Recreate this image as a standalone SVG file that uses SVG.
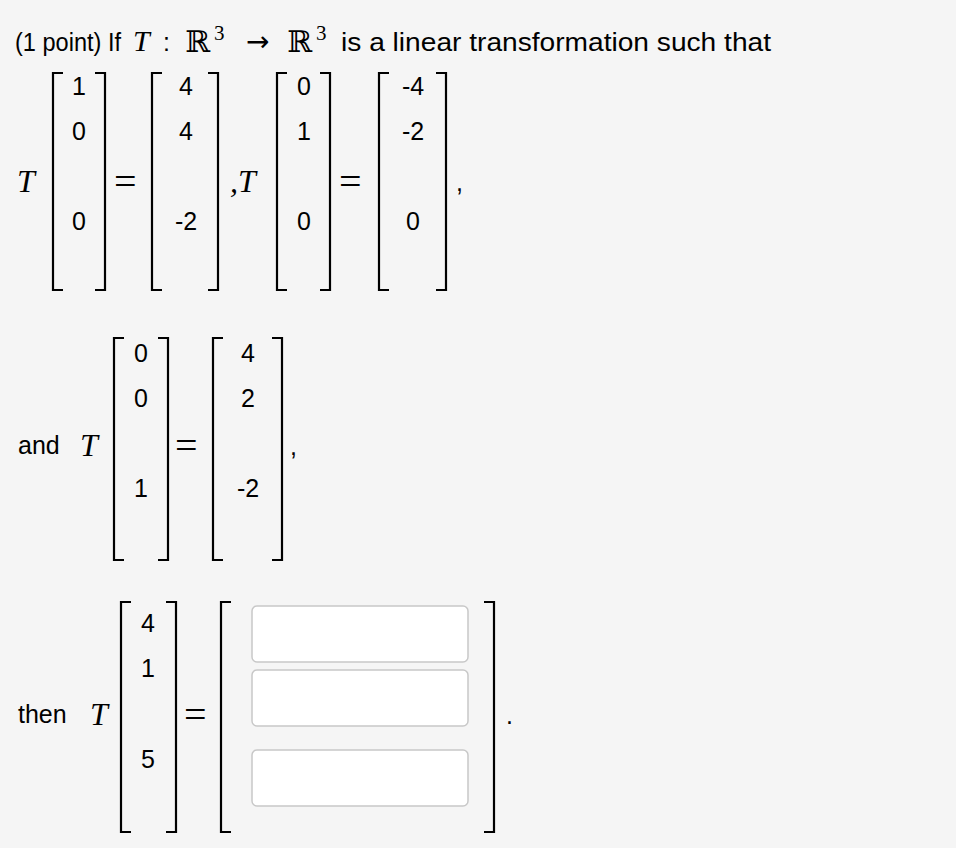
<svg xmlns="http://www.w3.org/2000/svg" width="956" height="848" viewBox="0 0 956 848">
<style>
text{font-family:"Liberation Sans",Arial,sans-serif;font-size:25px;fill:#000}
.m{font-family:"Liberation Serif","Times New Roman",serif;font-style:italic;font-size:32px}
.e{font-family:"Liberation Serif","Times New Roman",serif;font-size:40px}
.c{text-anchor:middle}
.b{fill:none;stroke:#000;stroke-width:2.2}
.box{fill:#fff;stroke:#c8c8c8;stroke-width:1.5}
</style>
<rect width="956" height="848" fill="#f5f5f5"/>
<g id="header">
<text x="15" y="51" textLength="106" lengthAdjust="spacingAndGlyphs">(1 point) If</text>
<text class="m" x="133" y="51" style="font-size:30px">T</text>
<text x="163" y="51">:</text>
<text x="185" y="52" style="font-family:'DejaVu Serif',serif;font-size:30px">ℝ</text>
<text x="214" y="40" style="font-family:'Liberation Serif',serif;font-size:21px">3</text>
<text x="246" y="51" style="font-family:'DejaVu Sans',sans-serif;font-size:28px">→</text>
<text x="287" y="52" style="font-family:'DejaVu Serif',serif;font-size:30px">ℝ</text>
<text x="316" y="40" style="font-family:'Liberation Serif',serif;font-size:21px">3</text>
<text x="341" y="51" textLength="430" lengthAdjust="spacingAndGlyphs">is a linear transformation such that</text>
</g>
<g id="eq1">
<text class="m" x="17" y="192">T</text>
<path class="b" d="M63,73H53V290H63M95,73H105V290H95"/>
<text class="c" x="79" y="95">1</text><text class="c" x="79" y="140">0</text><text class="c" x="79" y="230">0</text>
<text class="e" x="114" y="195">=</text>
<path class="b" d="M162,73H152V290H162M208,73H218V290H208"/>
<text class="c" x="186" y="95">4</text><text class="c" x="186" y="140">4</text><text class="c" x="186" y="230">-2</text>
<text class="m" x="230" y="192">,T</text>
<path class="b" d="M287,73H277V290H287M320,73H330V290H320"/>
<text class="c" x="304" y="95">0</text><text class="c" x="304" y="140">1</text><text class="c" x="304" y="230">0</text>
<text class="e" x="339" y="195">=</text>
<path class="b" d="M389,73H379V290H389M436,73H446V290H436"/>
<text class="c" x="413" y="95">-4</text><text class="c" x="413" y="140">-2</text><text class="c" x="413" y="230">0</text>
<text x="456" y="191">,</text>
</g>
<g id="eq2">
<text x="18" y="454">and</text>
<text class="m" x="80" y="456">T</text>
<path class="b" d="M124,338H114V560H124M158,338H168V560H158"/>
<text class="c" x="141" y="362">0</text><text class="c" x="141" y="407">0</text><text class="c" x="141" y="497">1</text>
<text class="e" x="175" y="459">=</text>
<path class="b" d="M223,338H213V560H223M272,338H282V560H272"/>
<text class="c" x="248" y="362">4</text><text class="c" x="248" y="407">2</text><text class="c" x="248" y="497">-2</text>
<text x="290" y="455">,</text>
</g>
<g id="eq3">
<text x="18" y="723">then</text>
<text class="m" x="90" y="725">T</text>
<path class="b" d="M131,602H121V832H131M166,602H176V832H166"/>
<text class="c" x="148" y="632">4</text><text class="c" x="148" y="677">1</text><text class="c" x="148" y="768">5</text>
<text class="e" x="184" y="728">=</text>
<path class="b" d="M231,602H221V832H231M484,602H494V832H484"/>
<rect class="box" x="252" y="606" width="216" height="56" rx="5"/>
<rect class="box" x="252" y="670" width="216" height="56" rx="5"/>
<rect class="box" x="252" y="750" width="216" height="56" rx="5"/>
<text x="506" y="724">.</text>
</g>
</svg>
